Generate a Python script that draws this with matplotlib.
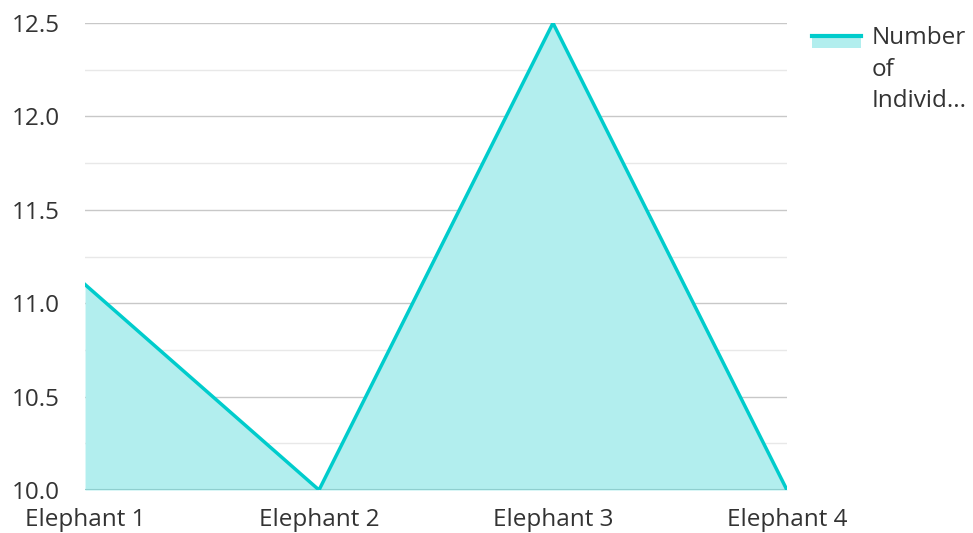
import matplotlib.pyplot as plt
from matplotlib.lines import Line2D
from matplotlib.patches import Rectangle
from matplotlib.ticker import MultipleLocator

plt.rcParams['font.family'] = ['Open Sans', 'DejaVu Sans']

# Data
elephants = ['Elephant 1', 'Elephant 2', 'Elephant 3', 'Elephant 4']
individuals = [11.1, 10.0, 12.5, 10.0]
series_name = 'Number\nof\nIndivid...'

line_color = '#00cccc'
fill_color = '#b2eeee'
text_color = '#333333'
font_size = 17.5

fig = plt.figure(figsize=(9.73, 5.33), dpi=100)
ax = fig.add_axes([0.0874, 0.0807, 0.7214, 0.8761])

x = list(range(len(elephants)))
ax.fill_between(x, individuals, 10.0, color=fill_color, linewidth=0, zorder=2)
ax.plot(x, individuals, color=line_color, linewidth=2.5, zorder=3,
        solid_joinstyle='miter')

ax.set_xlim(0, len(elephants) - 1)
ax.set_ylim(10.0, 12.5)
ax.set_xticks(x)
ax.set_xticklabels(elephants)
ax.yaxis.set_major_locator(MultipleLocator(0.5))
ax.yaxis.set_minor_locator(MultipleLocator(0.25))
ax.yaxis.set_major_formatter(lambda v, p: f'{v:.1f}')

ax.grid(axis='y', which='major', color='#c8c8c8', linewidth=1, zorder=1)
ax.grid(axis='y', which='minor', color='#e8e8e8', linewidth=1, zorder=1)
ax.axhline(10.0, color='#8fcfcf', linewidth=1.5, zorder=2.5)

for s in ax.spines.values():
    s.set_visible(False)
ax.tick_params(axis='both', which='both', length=0, labelsize=font_size,
               labelcolor=text_color)
ax.tick_params(axis='y', pad=18)
ax.tick_params(axis='x', pad=13)

# Legend drawn by hand so the swatch shows the fill with its top line
fig.add_artist(Rectangle((812 / 973, 1 - 48 / 533), 49 / 973, 13 / 533,
                         transform=fig.transFigure, color=fill_color, lw=0))
fig.add_artist(Line2D([812 / 973, 861 / 973], [1 - 36 / 533, 1 - 36 / 533],
                      transform=fig.transFigure, color=line_color, lw=3))
fig.text(872 / 973, 1 - 26 / 533, series_name, ha='left', va='top',
         fontsize=font_size, color=text_color, linespacing=1.42)

fig.savefig('out.png', dpi=100)
